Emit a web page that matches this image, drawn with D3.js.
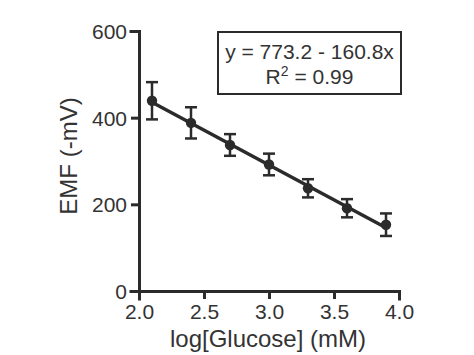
<!DOCTYPE html>
<html>
<head>
<meta charset="utf-8">
<script src="https://cdn.jsdelivr.net/npm/d3@7"></script>
<style>
  html, body { margin: 0; padding: 0; background: #fff; }
  svg { display: block; font-family: "Liberation Sans", Arial, sans-serif; }
</style>
</head>
<body>
<svg id="chart" width="474" height="355"></svg>
<script>
// ---- data ----
const logGlucose = [2.1, 2.4, 2.7, 3.0, 3.3, 3.6, 3.9];
const emf = [439, 388, 337, 292, 237, 191, 153];
const emfErr = [43, 36, 25, 25, 21, 21, 26];
const fitIntercept = 773.2;
const fitSlope = -160.8;
const xTicks = [2.0, 2.5, 3.0, 3.5, 4.0];
const yTicks = [0, 200, 400, 600];
const legendLines = ["y = 773.2 - 160.8x", "R2 = 0.99"];

const ink = "#2b2b2b";
const svg = d3.select("#chart");

const x = d3.scaleLinear().domain([2, 4]).range([139, 399]);
const y = d3.scaleLinear().domain([0, 600]).range([291, 31]);

// axes
const xAxis = svg.append("g").attr("transform", `translate(0,${y(0)})`)
  .call(d3.axisBottom(x).tickValues(xTicks).tickFormat(d3.format(".1f")).tickSizeOuter(0).tickSize(8).tickPadding(5));
const yAxis = svg.append("g").attr("transform", `translate(${x(2)},0)`)
  .call(d3.axisLeft(y).tickValues(yTicks).tickFormat(d3.format("d")).tickSizeOuter(0).tickSize(8).tickPadding(4));

[xAxis, yAxis].forEach(g => {
  g.select(".domain").attr("stroke", ink).attr("stroke-width", 3).attr("stroke-linecap", "square");
  g.selectAll(".tick line").attr("stroke", ink).attr("stroke-width", 3);
  g.selectAll(".tick text").attr("fill", "#333").style("font-size", "21px")
    .style("font-family", '"Liberation Sans", Arial, sans-serif');
});
xAxis.selectAll(".tick text").attr("dy", "0.72em");
yAxis.selectAll(".tick text").attr("dy", "0.36em");

// axis titles
svg.append("text")
  .attr("x", 268).attr("y", 347)
  .attr("text-anchor", "middle")
  .attr("fill", "#333")
  .style("font-size", "24px")
  .text("log[Glucose] (mM)");

svg.append("text")
  .attr("transform", "translate(77,156) rotate(-90)")
  .attr("text-anchor", "middle")
  .attr("fill", "#333")
  .style("font-size", "24px")
  .text("EMF (-mV)");

// fit line
const fitX = [logGlucose[0], logGlucose[logGlucose.length - 1]];
svg.append("line")
  .attr("x1", x(fitX[0])).attr("y1", y(fitIntercept + fitSlope * fitX[0]))
  .attr("x2", x(fitX[1])).attr("y2", y(fitIntercept + fitSlope * fitX[1]))
  .attr("stroke", ink).attr("stroke-width", 3.5);

// error bars
const pts = logGlucose.map((v, i) => ({ x: v, y: emf[i], e: emfErr[i] }));
const eb = svg.append("g").attr("stroke", ink).attr("stroke-width", 2.5);
pts.forEach(p => {
  eb.append("line").attr("x1", x(p.x)).attr("x2", x(p.x)).attr("y1", y(p.y - p.e)).attr("y2", y(p.y + p.e));
  eb.append("line").attr("x1", x(p.x) - 6).attr("x2", x(p.x) + 6).attr("y1", y(p.y + p.e)).attr("y2", y(p.y + p.e));
  eb.append("line").attr("x1", x(p.x) - 6).attr("x2", x(p.x) + 6).attr("y1", y(p.y - p.e)).attr("y2", y(p.y - p.e));
});

// points
svg.append("g").selectAll("circle").data(pts).join("circle")
  .attr("cx", d => x(d.x)).attr("cy", d => y(d.y)).attr("r", 5.2)
  .attr("fill", ink);

// legend box
svg.append("rect")
  .attr("x", 218).attr("y", 32).attr("width", 183).attr("height", 62)
  .attr("fill", "#fff").attr("stroke", ink).attr("stroke-width", 2);

svg.append("text")
  .attr("x", 309.5).attr("y", 59)
  .attr("text-anchor", "middle").attr("fill", "#333")
  .style("font-size", "21px")
  .text(legendLines[0]);

const r2 = svg.append("text")
  .attr("x", 309.5).attr("y", 84)
  .attr("text-anchor", "middle").attr("fill", "#333")
  .style("font-size", "21px");
r2.append("tspan").text("R");
r2.append("tspan").attr("dy", -8).style("font-size", "14px").text("2");
r2.append("tspan").attr("dy", 8).text(" = 0.99");
</script>
</body>
</html>
